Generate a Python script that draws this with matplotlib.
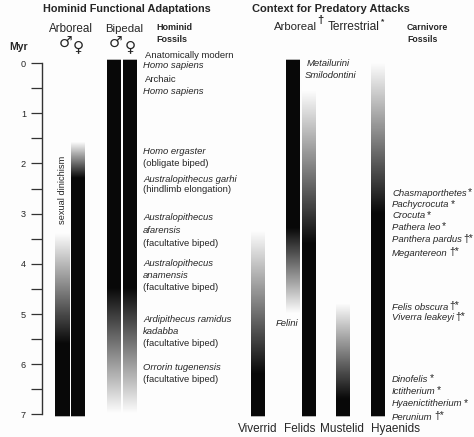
import matplotlib
matplotlib.use("Agg")
import matplotlib.pyplot as plt
import numpy as np

plt.rcParams["font.family"] = ["Liberation Sans", "DejaVu Sans"]

W, H = 474, 437
TEXT = "#262626"

myr_ticks = [0, 1, 2, 3, 4, 5, 6, 7]
myr_minor = [0.5, 1.5, 2.5, 3.5, 4.5, 5.5, 6.5]

# gradient columns: start, fully dark, end of dark, end (Myr)
col_names = ["arb_m", "arb_f", "bip_m", "bip_f", "viverrid", "felid_a", "felid_b", "mustelid", "hyaenid"]
col_start = [3.4, 1.58, -0.05, -0.05, 3.35, -0.05, 0.55, 4.8, 0.0]
col_dark = [5.6, 2.3, -0.05, -0.05, 6.2, -0.05, 3.6, 6.7, 3.0]
col_dark_end = [7.05, 7.05, 4.5, 4.5, 7.05, 3.3, 7.05, 7.05, 7.05]
col_end = [7.05, 7.05, 7.0, 7.0, 7.05, 5.0, 7.05, 7.05, 7.05]

hominid_lines = [
    "Anatomically modern", "Homo sapiens", "Archaic", "Homo sapiens",
    "Homo ergaster", "(obligate biped)", "Australopithecus garhi", "(hindlimb elongation)",
    "Australopithecus", "afarensis", "(facultative biped)",
    "Australopithecus", "anamensis", "(facultative biped)",
    "Ardipithecus ramidus", "kadabba", "(facultative biped)",
    "Orrorin tugenensis", "(facultative biped)",
]
hominid_y = [55, 66, 80, 91, 152, 163.5, 179, 190, 218, 231, 243, 263, 275, 287, 320, 331, 343, 367, 379]
roman = ["Anatomically modern", "Archaic", "(obligate biped)", "(hindlimb elongation)", "(facultative biped)"]

carnivores = [
    "Chasmaporthetes", "Pachycrocuta", "Crocuta", "Pathera leo", "Panthera pardus", "Megantereon",
    "Felis obscura", "Viverra leakeyi", "Dinofelis", "Ictitherium", "Hyaenictitherium", "Perunium",
]
carnivore_marks = ["*", "*", "*", "*", "†*", "†*", "†*", "†*", "*", "*", "*", "†*"]
carnivore_y = [193, 204.5, 216, 227, 240, 253, 307, 318, 379, 391, 404, 417]

bottom_labels = ["Viverrid", "Felids", "Mustelid", "Hyaenids"]

col_x = dict(arb_m=(55, 70), arb_f=(71.5, 85.5), bip_m=(107, 120.5), bip_f=(123, 136.5),
             viverrid=(251, 265), felid_a=(286, 300), felid_b=(302, 316),
             mustelid=(336, 350), hyaenid=(371, 385))
bottom_x = [258, 300, 342, 395]

y0, per_myr = 63.0, 50.2

fig = plt.figure(figsize=(W / 100, H / 100), dpi=100, facecolor="#fdfdfd")
ax = fig.add_axes([0, 0, 1, 1], facecolor="none")


def put(x, y, s, size=6.8, **kw):
    kw.setdefault("va", "center")
    kw.setdefault("color", TEXT)
    return fig.text(x / W, 1 - y / H, s, fontsize=size, **kw)


rows = np.linspace(-0.1, 7.1, 400)
for name, a, b, c, d in zip(col_names, col_start, col_dark, col_dark_end, col_end):
    x1, x2 = col_x[name]
    shade = np.where(
        rows < a, 1.0,
        np.where(rows < b, 0.03 + 0.97 * (b - rows) / max(b - a, 1e-6),
                 np.where(rows <= c, 0.03,
                          np.where(rows <= d, 0.03 + 0.97 * (rows - c) / max(d - c, 1e-6), 1.0))))
    rgba = np.zeros((len(rows), 1, 4))
    rgba[..., 3] = (1 - shade)[:, None]
    ax.imshow(rgba, extent=[x1, x2, rows[-1], rows[0]], aspect="auto", interpolation="bilinear", zorder=2)

ax.set_xlim(0, W)
ax.set_ylim((H - y0) / per_myr, -y0 / per_myr)

for side in ["top", "right", "bottom"]:
    ax.spines[side].set_visible(False)
ax.spines["left"].set_position(("data", 42))
ax.spines["left"].set_bounds(0, 7)
ax.spines["left"].set_linewidth(1.0)
ax.spines["left"].set_color("#333333")
ax.xaxis.set_visible(False)
ax.set_yticks(myr_ticks)
ax.set_yticks(myr_minor, minor=True)
ax.tick_params(axis="y", which="both", direction="out", length=8, width=0.9, color="#333333")
ax.tick_params(axis="y", which="major", labelsize=6.6, pad=3.5, labelcolor=TEXT)

put(127, 9, "Hominid Functional Adaptations", size=7.8, ha="center", weight="bold")
put(331, 9, "Context for Predatory Attacks", size=8, ha="center", weight="bold")
put(19, 47.5, "Myr", size=7.5, ha="center", weight="bold")
put(71, 29, "Arboreal", size=8.4, ha="center")
put(124, 29, "Bipedal", size=8.2, ha="center")
for x, y, s in zip([66, 78, 116, 130], [42, 47, 42, 47], ["♂", "♀", "♂", "♀"]):
    put(x, y, s, size=11, ha="center", family="DejaVu Sans")
put(156, 28, "Hominid", size=6.5, weight="bold")
put(156, 39.5, "Fossils", size=6.5, weight="bold")
put(63, 190, "sexual dinichism", size=6.7, rotation=90, ha="center")

put(274, 27.5, "Arboreal", size=8.2)
put(320, 20, "†", size=8, ha="center", weight="bold")
put(328, 27.5, "Terrestrial", size=8.6)
put(383, 22, "*", size=6, ha="center", weight="bold")
put(407, 28, "Carnivore", size=6.3, weight="bold")
put(407, 40, "Fossils", size=6.3, weight="bold")

for s, y in zip(hominid_lines, hominid_y):
    x = {"Anatomically modern": 145, "Archaic": 144.5}.get(s, 143)
    put(x, y, s, style="normal" if s in roman else "italic")

put(307, 64, "Metailurini", style="italic")
put(305, 75, "Smilodontini", style="italic")
put(276, 324, "Felini", style="italic")

for s, mark, y in zip(carnivores, carnivore_marks, carnivore_y):
    t = put(392, y, s, style="italic")
    ax.annotate(mark, xy=(1, 0.5), xycoords=t, xytext=(1, 0.5), textcoords="offset points",
                fontsize=7.5, color=TEXT, va="center", ha="left", annotation_clip=False)

for x, s in zip(bottom_x, bottom_labels):
    put(x, 429, s, size=8.5, ha="center")

fig.savefig("out.png", dpi=100, facecolor=fig.get_facecolor())
